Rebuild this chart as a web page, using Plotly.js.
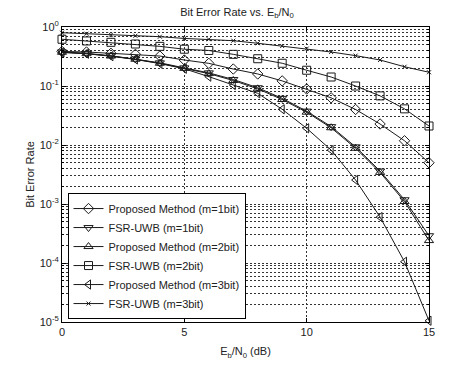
<!DOCTYPE html>
<html>
<head>
<meta charset="utf-8">
<script src="https://cdn.plot.ly/plotly-3.0.1.min.js"></script>
<style>html,body{margin:0;padding:0;background:#fff;}#chart{width:474px;height:365px;}</style>
</head>
<body>
<div id="chart"></div>
<script>
var ebno = [0,1,2,3,4,5,6,7,8,9,10,11,12,13,14,15];
var prop1 = [0.385,0.377,0.358,0.344,0.322,0.276,0.242,0.194,0.160,0.122,0.089,0.063,0.040,0.0227,0.0118,0.0050];
var fsr1  = [0.378,0.357,0.326,0.288,0.247,0.203,0.167,0.129,0.0935,0.0617,0.0375,0.0205,0.0093,0.00362,0.00118,0.00029];
var prop2 = [0.373,0.353,0.322,0.284,0.243,0.199,0.162,0.124,0.0895,0.059,0.036,0.0196,0.0088,0.00343,0.00110,0.00024];
var fsr2  = [0.62,0.58,0.55,0.515,0.47,0.42,0.40,0.344,0.29,0.243,0.185,0.142,0.100,0.068,0.041,0.021];
var prop3 = [0.371,0.352,0.320,0.282,0.240,0.196,0.144,0.104,0.0752,0.0403,0.0192,0.0082,0.00255,0.00060,0.000105,0.0000105];
var fsr3  = [0.80,0.77,0.74,0.71,0.685,0.64,0.62,0.586,0.53,0.476,0.43,0.377,0.327,0.276,0.212,0.171];

var names = ['Proposed Method (m=1bit)','FSR-UWB (m=1bit)','Proposed Method (m=2bit)','FSR-UWB (m=2bit)','Proposed Method (m=3bit)','FSR-UWB (m=3bit)'];
var series = [prop1, fsr1, prop2, fsr2, prop3, fsr3];
var symbols = ['diamond-open','triangle-down-open','triangle-up-open','square-open','triangle-left-open','x-thin-open'];
var sizes = [8,8,8,8,8,4];

var yTickVals = [1e-5,1e-4,1e-3,1e-2,1e-1,1];
var yTickText = ['10<sup>-5</sup>','10<sup>-4</sup>','10<sup>-3</sup>','10<sup>-2</sup>','10<sup>-1</sup>','10<sup>0</sup>'];
var xTickVals = [0,5,10,15];

var traces = series.map(function(s,i){
  return {
    x: ebno, y: s, name: names[i], type: 'scatter', mode: 'lines+markers',
    cliponaxis: false,
    line: {color: '#1a1a1a', width: 1},
    marker: {symbol: symbols[i], size: sizes[i], color: '#1a1a1a', line: {color: '#1a1a1a', width: 1}}
  };
});

var font = 'Arial, "Liberation Sans", sans-serif';
var layout = {
  width: 474, height: 365,
  margin: {l: 62, r: 45, t: 27, b: 43},
  paper_bgcolor: '#fff', plot_bgcolor: '#fff',
  font: {family: font, size: 11, color: '#222'},
  showlegend: true,
  title: {text: 'Bit Error Rate vs. E<sub>b</sub>/N<sub>0</sub>', font: {family: font, size: 11, color: '#222'}, x: 0.5, xanchor: 'center', y: 0.977, yanchor: 'top'},
  xaxis: {
    range: [0, 15], tickvals: xTickVals, ticktext: ['0','5','10','15'],
    ticks: 'inside', ticklen: 4, tickcolor: '#000',
    showline: true, linecolor: '#000', linewidth: 1, mirror: 'ticks',
    showgrid: true, gridcolor: '#333', griddash: '2px,2px', gridwidth: 1,
    zeroline: false, tickfont: {size: 11},
    title: {text: 'E<sub>b</sub>/N<sub>0</sub> (dB)', font: {size: 11}, standoff: 10}
  },
  yaxis: {
    type: 'log', range: [-5, 0], tickvals: yTickVals, ticktext: yTickText,
    ticks: 'inside', ticklen: 4, tickcolor: '#000',
    showline: true, linecolor: '#000', linewidth: 1, mirror: 'ticks',
    showgrid: true, gridcolor: '#333', griddash: '2px,2px', gridwidth: 1,
    minor: {dtick: 'D1', showgrid: true, gridcolor: '#333', griddash: '2px,2px', gridwidth: 1, ticks: 'inside', ticklen: 2, tickcolor: '#000'},
    zeroline: false, tickfont: {size: 11},
    title: {text: 'Bit Error Rate', font: {size: 11}, standoff: 2}
  },
  legend: {
    x: 0.015, y: 0.01, xanchor: 'left', yanchor: 'bottom',
    bgcolor: '#fff', bordercolor: '#000', borderwidth: 1,
    font: {family: font, size: 11, color: '#222'},
    itemwidth: 30, tracegroupgap: 0
  }
};

Plotly.newPlot('chart', traces, layout, {displayModeBar: false, staticPlot: true});
</script>
</body>
</html>
